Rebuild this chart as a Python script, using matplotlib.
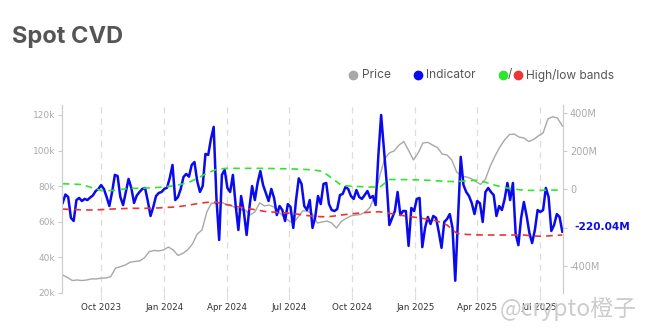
import matplotlib
matplotlib.use("Agg")
import matplotlib.pyplot as plt
import matplotlib.dates as mdates
import matplotlib.transforms as mtransforms
from matplotlib.lines import Line2D
import pandas as pd

# data
# indicator (spot CVD, millions) sampled every 4 days from 2023-08-06
indicator_start = "2023-08-06"
indicator = [
    -70, -26, -39, -148, -164, -55, -44, -60, -49, -55,
    -42, -31, -8, 3, 23, 3, -39, -86, -13, 76,
    70, -39, -81, -13, 55, 8, -70, -31, -13, 3,
    8, -60, -138, -91, -34, -18, -13, 3, 9, 60,
    128, -55, -39, 3, 65, 81, 67, 128, 143, 44,
    -13, 18, 185, 180, 263, 326, -44, -263, 76, 102,
    8, -13, 76, -81, -211, -34, -117, -237, -96, 18,
    -55, 34, 96, 23, -18, -60, 3, -44, -133, -86,
    -107, -164, -76, -91, -200, -55, 58, 29, -86, -107,
    -55, -200, -143, -34, -76, 29, 34, -76, -107, -112,
    -102, -29, -23, 13, 3, -34, -49, -3, -39, -49,
    -29, -8, -44, -34, -81, 180, 388, 216, 39, -185,
    -148, -112, -13, -133, -112, -112, -294, -96, -112, -49,
    -44, -300, -200, -143, -180, -138, -148, -221, -304, -169,
    -154, -128, -200, -475, -148, 170, 23, -13, -34, -70,
    -128, -60, -72, -169, -13, 8, -13, -29, -138, -86,
    -107, -49, 34, -55, 34, -230, -290, -148, -65, -138,
    -226, -279, -211, -107, -117, -107, 8, -39, -216, -185,
    -128, -143, -220.04,
]

# BTC price (thousand USD), weekly from 2023-08-06
price_start = "2023-08-06"
price = [
    30.1, 28.7, 27.0, 27.3, 27.0, 27.3, 27.9, 27.9, 28.3, 28.4,
    29.2, 34.0, 34.8, 35.7, 37.2, 37.7, 38.0, 39.7, 43.2, 43.9,
    43.6, 44.2, 45.8, 44.2, 41.1, 42.2, 44.2, 47.5, 53.1, 55.4,
    65.5, 70.6, 70.0, 71.1, 69.7, 69.2, 67.8, 66.6, 66.6, 63.8,
    65.5, 70.6, 68.9, 69.4, 68.3, 65.5, 62.7, 60.7, 59.3, 62.7,
    66.3, 65.8, 64.4, 59.3, 59.9, 60.4, 59.3, 56.5, 60.2, 61.9,
    63.3, 63.8, 64.1, 65.5, 68.3, 75.1, 85.7, 95.3, 98.7, 99.8,
    103.1, 105.1, 100.1, 94.7, 98.7, 104.3, 104.6, 103.1, 101.7, 98.1,
    97.5, 94.7, 88.0, 85.7, 85.2, 84.3, 82.6, 81.0, 84.0, 91.3,
    97.0, 102.0, 106.0, 109.0, 109.3, 107.6, 107.1, 105.1, 106.2, 108.2,
    109.9, 117.8, 119.0, 118.3, 113.8,
]

# high / low bands (millions), every 14 days from 2023-08-06
band_start = "2023-08-06"
high_band = [
    30, 28, 26, 10, -5, -6, 0, 6, 6, 8,
    11, 16, 23, 35, 57, 85, 104, 110, 110, 110,
    110, 110, 109, 108, 107, 105, 102, 95, 60, 22,
    17, 15, 13, 12, 52, 52, 51, 50, 48, 45,
    42, 41, 45, 48, 38, 22, 10, 2, -4, -5,
    -4, -3, -3,
]
low_band = [
    -102, -104, -106, -107, -105, -102, -100, -98, -98, -98,
    -96, -93, -90, -82, -74, -67, -66, -78, -88, -97,
    -105, -114, -118, -121, -125, -133, -139, -142, -140, -133,
    -127, -122, -118, -116, -124, -133, -140, -147, -155, -165,
    -185, -228, -234, -236, -237, -237, -237, -237, -237, -242,
    -244, -240, -237,
]

price_ticks = [20, 40, 60, 80, 100, 120]
price_labels = ["20k", "40k", "60k", "80k", "100k", "120k"]
cvd_ticks = [-400, -200, 0, 200, 400]
cvd_labels = ["-400M", "", "0", "200M", "400M"]
quarter_ticks = ["2023-10-01", "2024-01-01", "2024-04-01", "2024-07-01",
                 "2024-10-01", "2025-01-01", "2025-04-01", "2025-07-01"]

ind_dates = pd.date_range(indicator_start, periods=len(indicator), freq="4D")
price_dates = pd.date_range(price_start, periods=len(price), freq="7D")
band_dates = pd.date_range(band_start, periods=len(high_band), freq="14D")

BLUE = "#0a0aee"
GRAY = "#a8a8a8"
GREEN = "#2ee62e"
RED = "#ee3434"
AXIS = "#cccccc"
LABEL = "#aaaaaa"

fig = plt.figure(figsize=(6.52, 3.36), dpi=100)
ax = fig.add_axes([0.0951, 0.128, 0.7684, 0.5595])
ax2 = ax.twinx()

ax.plot(price_dates, price, color=GRAY, lw=1.0)
ax2.plot(ind_dates, indicator, color=BLUE, lw=1.8, solid_joinstyle="round")
ax2.plot(band_dates, high_band, color=GREEN, lw=1.2, dashes=(4, 3))
ax2.plot(band_dates, low_band, color=RED, lw=1.2, dashes=(4, 3))

ax.set_xlim(pd.Timestamp("2023-08-05"), pd.Timestamp("2025-08-04"))
ax.set_ylim(20, 125.6)
ax2.set_ylim(-539, 440)

ax.set_xticks(pd.to_datetime(quarter_ticks))
ax.xaxis.set_major_formatter(mdates.DateFormatter("%b %Y"))
ax.grid(axis="x", color="#dddddd", lw=0.9, dashes=(5, 4))
ax.tick_params(axis="x", length=5, color="#dddddd", labelsize=6.3,
               labelcolor="#333333", pad=2)

ax.set_yticks(price_ticks)
ax.set_yticklabels(price_labels)
ax.tick_params(axis="y", length=3, color=AXIS, labelsize=6.5,
               labelcolor=LABEL, pad=2)
ax2.set_yticks(cvd_ticks)
ax2.set_yticklabels(cvd_labels)
ax2.tick_params(axis="y", length=3, color=AXIS, labelsize=7,
                labelcolor=LABEL, pad=2)

for a in (ax, ax2):
    for side in ("top", "bottom"):
        a.spines[side].set_visible(False)
    a.spines["left"].set_color(AXIS)
    a.spines["right"].set_color(AXIS)

# last value label on the right axis
trans = mtransforms.blended_transform_factory(ax2.transAxes, ax2.transData)
ax2.text(1.022, indicator[-1], "-220.04M", transform=trans, color=BLUE,
         fontsize=7.6, fontweight="semibold", va="bottom", ha="left",
         clip_on=False)

# title and legend
fig.text(12 / 652, 1 - 37 / 336, "Spot CVD", fontsize=17, fontweight="bold",
         color="#555555", family="Inter", va="center", ha="left")

legend_y = 1 - 75 / 336
items = [(353.3, GRAY), (417.7, BLUE), (503.3, GREEN), (517.7, RED)]
for px, col in items:
    fig.add_artist(Line2D([px / 652], [legend_y], marker="o", markersize=6,
                          color=col, linestyle="none",
                          transform=fig.transFigure))
for px, txt in [(362, "Price"), (426, "Indicator"), (508, "/"), (526, "High/low bands")]:
    fig.text(px / 652, legend_y, txt, fontsize=8.6, color="#555555",
             family="Inter", va="center", ha="left")

# watermark
fig.text(500 / 652, 1 - 309 / 336, "@crypto橙子", fontsize=16.5, color="#cccccc",
         family=["Noto Sans CJK SC", "DejaVu Sans"], va="center", ha="left",
         fontweight="light")

fig.savefig("out.png", dpi=100)
